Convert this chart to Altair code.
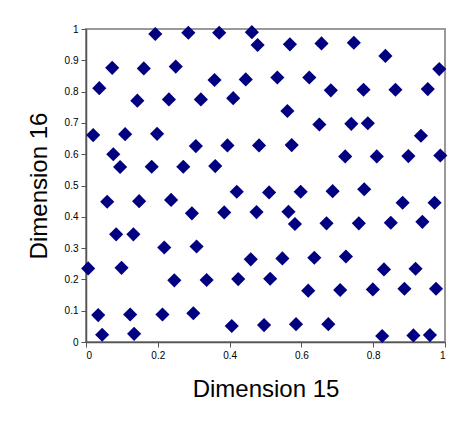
import altair as alt
import pandas as pd

dim15 = [0.193, 0.285, 0.371, 0.462, 0.478, 0.073, 0.161, 0.250, 0.037, 0.358,
         0.445, 0.143, 0.231, 0.320, 0.410, 0.020, 0.109, 0.198, 0.076, 0.306,
         0.394, 0.482, 0.095, 0.183, 0.271, 0.360,
         0.568, 0.656, 0.746, 0.834, 0.984, 0.533, 0.622, 0.682, 0.773, 0.862,
         0.952, 0.561, 0.650, 0.739, 0.785, 0.933, 0.573, 0.722, 0.810, 0.898,
         0.987,
         0.420, 0.059, 0.148, 0.237, 0.295, 0.385, 0.475, 0.084, 0.132, 0.218,
         0.308, 0.459, 0.006, 0.099, 0.246, 0.336, 0.424, 0.034, 0.123, 0.213,
         0.299, 0.406, 0.045, 0.134,
         0.510, 0.598, 0.687, 0.775, 0.882, 0.971, 0.564, 0.582, 0.670, 0.760,
         0.849, 0.937, 0.547, 0.636, 0.724, 0.830, 0.918, 0.513, 0.619, 0.708,
         0.799, 0.887, 0.975, 0.496, 0.585, 0.675, 0.825, 0.912, 0.958]
dim16 = [0.984, 0.988, 0.988, 0.990, 0.949, 0.876, 0.874, 0.880, 0.811, 0.837,
         0.839, 0.771, 0.775, 0.775, 0.779, 0.661, 0.664, 0.665, 0.600, 0.626,
         0.628, 0.628, 0.559, 0.560, 0.560, 0.562,
         0.951, 0.954, 0.956, 0.914, 0.872, 0.845, 0.845, 0.804, 0.806, 0.806,
         0.808, 0.738, 0.695, 0.697, 0.699, 0.659, 0.629, 0.593, 0.593, 0.594,
         0.596,
         0.480, 0.448, 0.450, 0.454, 0.411, 0.414, 0.415, 0.344, 0.344, 0.302,
         0.305, 0.264, 0.235, 0.237, 0.197, 0.198, 0.201, 0.086, 0.088, 0.088,
         0.092, 0.051, 0.023, 0.026,
         0.478, 0.480, 0.482, 0.488, 0.445, 0.445, 0.416, 0.377, 0.379, 0.379,
         0.381, 0.384, 0.267, 0.269, 0.273, 0.232, 0.234, 0.202, 0.164, 0.166,
         0.168, 0.170, 0.170, 0.054, 0.057, 0.057, 0.019, 0.021, 0.022]

x_ticks = [0, 0.2, 0.4, 0.6, 0.8, 1]
y_ticks = [0, 0.1, 0.2, 0.3, 0.4, 0.5, 0.6, 0.7, 0.8, 0.9, 1]

df = pd.DataFrame({"d15": dim15, "d16": dim16})

W, H = 359, 313

chart = alt.Chart(df).mark_point(
    shape="diamond", filled=True, size=200, color="#000080", opacity=1
).encode(
    x=alt.X("d15:Q", scale=alt.Scale(domain=[0, 1], nice=False, zero=False),
            axis=alt.Axis(values=x_ticks, format="~g", title="Dimension 15",
                          titleFontSize=24, titleFontWeight="normal",
                          titleX=W / 2, titleY=47, titleAlign="center",
                          titleBaseline="middle", grid=False)),
    y=alt.Y("d16:Q", scale=alt.Scale(domain=[0, 1], nice=False, zero=False),
            axis=alt.Axis(values=y_ticks, format="~g", title="Dimension 16",
                          titleFontSize=24, titleFontWeight="normal",
                          titleX=-47, titleY=H / 2, titleAngle=-90,
                          titleAlign="center", titleBaseline="middle", grid=False)),
).properties(
    width=W, height=H,
    autosize=alt.AutoSizeParams(type="none"),
    padding={"left": 78, "top": 21, "right": 20, "bottom": 70},
).configure_view(
    stroke="#999999", strokeWidth=2
).configure_axis(
    labelFont="Liberation Sans", titleFont="Liberation Sans",
    labelFontSize=10, labelColor="#000000", titleColor="#000000",
    domainColor="#555555", domainWidth=1.5, tickColor="#555555",
    tickSize=5, labelPadding=3,
)

chart.save("out.html", embed_options={"renderer": "svg", "actions": False})
